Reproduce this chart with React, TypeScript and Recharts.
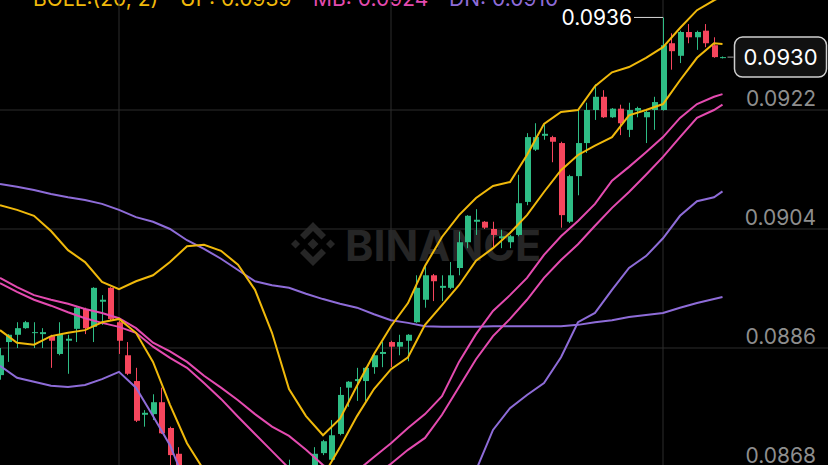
import React from "react"
import { ComposedChart, Bar, Line, XAxis, YAxis, CartesianGrid, ReferenceDot, ReferenceLine } from "recharts"

const GREEN = "#2ebd85"
const RED = "#f6465d"
const YELLOW = "#f0b90b"
const PINK = "#e44bb0"
const PURPLE = "#8e6cd8"
const GRID = "#2c2c2c"
const AXIS_TEXT = "#8e8e8e"
const FONT = "Inter, 'Noto Sans', sans-serif"

// candle index (one per bar), lines are sampled on LINE_INDEX
const CANDLE_INDEX = Array.from({ length: 86 }, (_, i) => i)
const LINE_INDEX = [
  0, 2, 4, 6, 8, 10, 12, 14, 16, 18, 20, 22, 24, 26, 28, 30, 32, 34, 36, 38, 40, 42,
  44, 46, 48, 50, 52, 54, 56, 58, 60, 62, 64, 66, 68, 70, 72, 74, 76, 78, 80, 82, 84, 85,
]
const GRID_INDEX = [14, 46, 78]
const PRICE_TICKS = [0.0868, 0.0886, 0.0904, 0.0922]

const OPEN = [
  0.08819, 0.08869, 0.0888, 0.0889, 0.08883, 0.08881, 0.08878, 0.08851, 0.08871, 0.08889,
  0.08919, 0.08892, 0.0893, 0.08951, 0.08899, 0.08849, 0.0881, 0.08759, 0.0876, 0.08778,
  0.08739, 0.087, 0.0866, 0.08645, 0.0865, 0.08625, 0.08635, 0.08615, 0.08622, 0.0863,
  0.0864, 0.08632, 0.0865, 0.0866, 0.08653, 0.08672, 0.08658, 0.08675, 0.08701, 0.08691,
  0.0873, 0.088, 0.0881, 0.0881, 0.08831, 0.08851, 0.08869, 0.08862, 0.08871, 0.08899,
  0.08933, 0.0897, 0.08951, 0.08951, 0.08981, 0.0902, 0.09051, 0.09051, 0.0904, 0.09026,
  0.0902, 0.09031, 0.09081, 0.0916, 0.09181, 0.09179, 0.0917, 0.09051, 0.0912, 0.0917,
  0.0922, 0.0924, 0.09209, 0.09222, 0.0919, 0.09219, 0.09209, 0.0922, 0.0922, 0.09321,
  0.09302, 0.09338, 0.0933, 0.0934, 0.09318, 0.09299,
]
const HIGH = [
  0.0886, 0.08881, 0.08899, 0.08901, 0.08899, 0.0889, 0.0888, 0.08899, 0.0888, 0.08922,
  0.08921, 0.08952, 0.0894, 0.08952, 0.08901, 0.08869, 0.0883, 0.08766, 0.0879, 0.088,
  0.08741, 0.0871, 0.08668, 0.08655, 0.08652, 0.0864, 0.08645, 0.0863, 0.08635, 0.08648,
  0.0865, 0.08655, 0.08665, 0.08672, 0.08691, 0.08678, 0.0868, 0.0871, 0.08721, 0.08751,
  0.08801, 0.0881, 0.0883, 0.08831, 0.08851, 0.08869, 0.08871, 0.0888, 0.08881, 0.0897,
  0.08986, 0.08972, 0.0897, 0.0899, 0.09036, 0.09061, 0.0907, 0.09052, 0.09051, 0.09039,
  0.09031, 0.09122, 0.09185, 0.092, 0.092, 0.09181, 0.09172, 0.09122, 0.0922, 0.09231,
  0.09259, 0.0925, 0.09223, 0.09228, 0.09231, 0.09225, 0.09219, 0.0924, 0.0936, 0.09336,
  0.0934, 0.0935, 0.0934, 0.0935, 0.0933, 0.09301,
]
const LOW = [
  0.08812, 0.08839, 0.0886, 0.08889, 0.0886, 0.0886, 0.0883, 0.08849, 0.08821, 0.08869,
  0.08881, 0.08869, 0.08895, 0.08902, 0.08851, 0.08819, 0.08748, 0.08741, 0.08751, 0.0873,
  0.08675, 0.08653, 0.0864, 0.0863, 0.0862, 0.08615, 0.0861, 0.086, 0.08612, 0.0862,
  0.08628, 0.08625, 0.0864, 0.08645, 0.08645, 0.08648, 0.0865, 0.08666, 0.08698, 0.08688,
  0.08728, 0.08771, 0.0878, 0.0878, 0.08821, 0.08831, 0.08831, 0.08849, 0.0884, 0.08898,
  0.08921, 0.08931, 0.08931, 0.08949, 0.0897, 0.09011, 0.09031, 0.0904, 0.09011, 0.09011,
  0.09011, 0.09029, 0.09076, 0.09158, 0.09175, 0.09141, 0.09042, 0.09049, 0.09091, 0.09155,
  0.09205, 0.09208, 0.09208, 0.09182, 0.09179, 0.09209, 0.0917, 0.0919, 0.09219, 0.09281,
  0.09291, 0.09321, 0.09311, 0.09315, 0.09299, 0.09298,
]
const CLOSE = [
  0.08849, 0.0888, 0.0889, 0.08899, 0.08884, 0.08884, 0.08871, 0.08881, 0.08874, 0.08921,
  0.0889, 0.08951, 0.08933, 0.08904, 0.08871, 0.08821, 0.0875, 0.08762, 0.08778, 0.08731,
  0.08698, 0.0866, 0.08645, 0.0865, 0.08625, 0.08635, 0.08615, 0.08622, 0.0863, 0.0864,
  0.08632, 0.0865, 0.0866, 0.08652, 0.08675, 0.08658, 0.08675, 0.087, 0.08719, 0.08728,
  0.08789, 0.08809, 0.08813, 0.0883, 0.08849, 0.08854, 0.08862, 0.08869, 0.0888, 0.08951,
  0.0897, 0.08961, 0.08954, 0.0897, 0.0902, 0.0906, 0.09054, 0.09042, 0.09031, 0.09029,
  0.09029, 0.09079, 0.09179, 0.09179, 0.09184, 0.09172, 0.09061, 0.0912, 0.0917, 0.0922,
  0.0924, 0.09209, 0.09222, 0.092, 0.0922, 0.09223, 0.09217, 0.09232, 0.09318, 0.09309,
  0.09338, 0.0933, 0.09338, 0.09321, 0.093, 0.093,
]

// BOLL(20, 2)
const BOLL_UP = [
  0.09076, 0.09069, 0.0906, 0.09037, 0.09008, 0.0899, 0.0896, 0.08949, 0.08961, 0.0897,
  0.0899, 0.09014, 0.09016, 0.09007, 0.08986, 0.08948, 0.08883, 0.08798, 0.08757, 0.08728,
  0.08753, 0.08803, 0.08851, 0.08893, 0.08928, 0.08984, 0.09028, 0.09061, 0.09087, 0.09105,
  0.09111, 0.09152, 0.09199, 0.09217, 0.0922, 0.09256, 0.09277, 0.09285, 0.09299, 0.09315,
  0.09344, 0.09371, 0.09386, 0.09392,
]
const BOLL_MB = [
  0.08958, 0.08945, 0.08933, 0.08924, 0.08914, 0.08905, 0.08898, 0.08892, 0.08883, 0.08862,
  0.08845, 0.0883, 0.08807, 0.08783, 0.08756, 0.0873, 0.08704, 0.08678, 0.0866, 0.08648,
  0.08657, 0.08674, 0.08695, 0.08716, 0.08739, 0.0876, 0.08787, 0.08839, 0.08881, 0.08916,
  0.0894, 0.08966, 0.09001, 0.09029, 0.09052, 0.09078, 0.09113, 0.09134, 0.09156, 0.09179,
  0.09208, 0.09229, 0.0924, 0.09244,
]
const BOLL_DN = [
  0.08833, 0.08815, 0.08809, 0.08803, 0.08801, 0.08804, 0.08813, 0.08824, 0.088, 0.08757,
  0.08713, 0.0865, 0.08598, 0.08559, 0.08526, 0.08512, 0.08525, 0.08558, 0.08563, 0.08568,
  0.08561, 0.08545, 0.08539, 0.08539, 0.0855, 0.08536, 0.08546, 0.08617, 0.08675, 0.08736,
  0.08769, 0.08789, 0.08807, 0.08846, 0.08899, 0.08913, 0.08948, 0.08981, 0.08999, 0.09026,
  0.0906, 0.09082, 0.09088, 0.09097,
]
// moving averages
const MA7 = [
  0.08887, 0.08868, 0.08865, 0.08878, 0.08883, 0.08887, 0.08899, 0.08904, 0.08883, 0.08839,
  0.08774, 0.08716, 0.08675, 0.08645, 0.0863, 0.08623, 0.08623, 0.0863, 0.08645, 0.08666,
  0.0871, 0.08757, 0.08798, 0.08828, 0.08846, 0.08895, 0.08925, 0.08955, 0.08992, 0.09011,
  0.09034, 0.09061, 0.09096, 0.09129, 0.09152, 0.09166, 0.09179, 0.09212, 0.0922, 0.09229,
  0.09265, 0.09299, 0.09321, 0.0932,
]
const MA25 = [
  0.08966, 0.08952, 0.0894, 0.08933, 0.08927, 0.08919, 0.08913, 0.08905, 0.0889, 0.08868,
  0.08855, 0.08839, 0.08818, 0.088, 0.08781, 0.0876, 0.08741, 0.08727, 0.08706, 0.08683,
  0.08666, 0.08657, 0.08666, 0.08685, 0.08706, 0.08724, 0.08759, 0.08801, 0.08843, 0.08878,
  0.08904, 0.08933, 0.08966, 0.08993, 0.09017, 0.09045, 0.09072, 0.09096, 0.09122, 0.09149,
  0.09179, 0.09208, 0.0922, 0.09228,
]
const MA99 = [
  0.09108, 0.09104, 0.09099, 0.09093, 0.09088, 0.09084, 0.09078, 0.09069, 0.09058, 0.09051,
  0.0904, 0.09023, 0.0901, 0.08995, 0.08978, 0.08961, 0.08955, 0.08951, 0.08942, 0.08934,
  0.08927, 0.08921, 0.08911, 0.08902, 0.08898, 0.08893, 0.08892, 0.08892, 0.08892, 0.08893,
  0.08893, 0.08893, 0.08893, 0.08893, 0.08895, 0.08899, 0.08902, 0.08907, 0.0891, 0.08913,
  0.08921, 0.08928, 0.08934, 0.08937,
]

const HIGHEST = Math.max(...HIGH)
const HIGHEST_INDEX = HIGH.indexOf(HIGHEST)
const LAST = CLOSE[CLOSE.length - 1]
const LAST_INDEX = CANDLE_INDEX[CANDLE_INDEX.length - 1]

// 8.5px per candle across 828px, 119px per 0.0018
const X_DOMAIN = [0, 828 / 8.5]
const Y_DOMAIN = [0.086679, 0.093864]

const rows = CANDLE_INDEX.map((k, i) => {
  const row: Record<string, number> = { k, open: OPEN[i], high: HIGH[i], low: LOW[i], close: CLOSE[i] }
  const j = LINE_INDEX.indexOf(k)
  if (j >= 0) {
    row.up = BOLL_UP[j]
    row.mb = BOLL_MB[j]
    row.dn = BOLL_DN[j]
    row.ma7 = MA7[j]
    row.ma25 = MA25[j]
    row.ma99 = MA99[j]
  }
  return row
})

function Candle(props: any) {
  const { x, y, width, height, payload } = props
  if (x == null || y == null || !payload) return null
  const top = Math.min(y, y + height)
  const bottom = Math.max(y, y + height)
  const span = payload.high - payload.low
  const toY = (v: number) => top + ((payload.high - v) / span) * (bottom - top)
  const cx = Math.round(x + width / 2)
  const color = payload.close >= payload.open ? GREEN : RED
  const bodyTop = toY(Math.max(payload.open, payload.close))
  const bodyBottom = toY(Math.min(payload.open, payload.close))
  return (
    <g>
      <line x1={cx + 0.5} x2={cx + 0.5} y1={top} y2={bottom} stroke={color} strokeWidth={1} />
      <rect x={cx - 2} y={bodyTop} width={6} height={Math.max(1, bodyBottom - bodyTop)} fill={color} />
    </g>
  )
}

function priceLabel(value: number) {
  return (p: any) => {
    const vb = p.viewBox || {}
    return (
      <text x={vb.x + vb.width - 12} y={vb.y - 4} textAnchor="end" fill={AXIS_TEXT} fontSize={21} fontFamily={FONT}>
        {value.toFixed(4)}
      </text>
    )
  }
}

function HighMarker(props: any) {
  const { cx, cy } = props
  return (
    <g>
      <line x1={cx - 29} x2={cx} y1={cy} y2={cy} stroke="#d8d8d8" strokeWidth={1} />
      <text x={cx - 31} y={cy + 7.5} textAnchor="end" fill="#ffffff" fontSize={21} fontFamily={FONT}>
        {HIGHEST.toFixed(4)}
      </text>
    </g>
  )
}

function LastPriceTag(props: any) {
  const { cx, cy } = props
  return (
    <g>
      <line x1={cx + 5} x2={cx + 11} y1={cy} y2={cy} stroke="#9a9a9a" strokeWidth={1} />
      <rect x={cx + 12} y={cy - 20} width={92} height={40} rx={8} fill="#111111" stroke="#cfcfcf" strokeWidth={1.5} />
      <text x={cx + 58} y={cy + 8} textAnchor="middle" fill="#ffffff" fontSize={22} fontFamily={FONT}>
        {LAST.toFixed(4)}
      </text>
    </g>
  )
}

function Backdrop() {
  return (
    <svg width={828} height={465} style={{ position: "absolute", left: 0, top: 0 }}>
      <g transform="translate(288 219) scale(0.5)" fill="#262626">
        <path d="M50 6 L76 32 L67 41 L50 24 L33 41 L24 32 Z" />
        <path d="M50 94 L76 68 L67 59 L50 76 L33 59 L24 68 Z" />
        <path d="M6 50 L15 41 L24 50 L15 59 Z" />
        <path d="M94 50 L85 41 L76 50 L85 59 Z" />
        <path d="M50 39 L61 50 L50 61 L39 50 Z" />
      </g>
      <text x={345} y={261} fill="#262626" fontSize={43} fontWeight={700} fontFamily={FONT}>
        BINANCE
      </text>
      <g fontSize={21} fontFamily={FONT}>
        <text x={33} y={6} fill={YELLOW}>BOLL:(20, 2)</text>
        <text x={180} y={6} fill={YELLOW}>UP: {BOLL_UP[BOLL_UP.length - 1].toFixed(4)}</text>
        <text x={313} y={6} fill={PINK}>MB: {BOLL_MB[BOLL_MB.length - 1].toFixed(4)}</text>
        <text x={449} y={6} fill={PURPLE}>DN: {BOLL_DN[BOLL_DN.length - 1].toFixed(4)}</text>
      </g>
    </svg>
  )
}

const lineProps = { strokeWidth: 2, dot: false, activeDot: false, connectNulls: true, isAnimationActive: false } as const

export default function App() {
  return (
    <div style={{ position: "absolute", left: 0, top: 0, width: 828, height: 465, background: "#000", overflow: "hidden" }}>
      <Backdrop />
      <div style={{ position: "absolute", left: 0, top: 0 }}>
        <ComposedChart width={828} height={475} data={rows} margin={{ top: 0, right: 0, bottom: 0, left: 0 }}>
          <CartesianGrid stroke={GRID} horizontalValues={PRICE_TICKS} verticalValues={GRID_INDEX} />
          <XAxis type="number" dataKey="k" domain={X_DOMAIN} allowDataOverflow hide />
          <YAxis type="number" domain={Y_DOMAIN} allowDataOverflow hide />
          <Bar dataKey={(d: any) => [d.low, d.high]} barSize={6} shape={Candle} isAnimationActive={false} />
          <Line dataKey="ma99" stroke={PURPLE} {...lineProps} />
          <Line dataKey="dn" stroke={PURPLE} {...lineProps} />
          <Line dataKey="ma25" stroke={PINK} {...lineProps} />
          <Line dataKey="mb" stroke={PINK} {...lineProps} />
          <Line dataKey="ma7" stroke={YELLOW} {...lineProps} />
          <Line dataKey="up" stroke={YELLOW} {...lineProps} />
          {PRICE_TICKS.map((v) => (
            <ReferenceLine key={v} y={v} stroke="none" strokeOpacity={0} label={priceLabel(v)} />
          ))}
          <ReferenceDot x={HIGHEST_INDEX} y={HIGHEST} shape={HighMarker} />
          <ReferenceDot x={LAST_INDEX} y={LAST} shape={LastPriceTag} />
        </ComposedChart>
      </div>
    </div>
  )
}
